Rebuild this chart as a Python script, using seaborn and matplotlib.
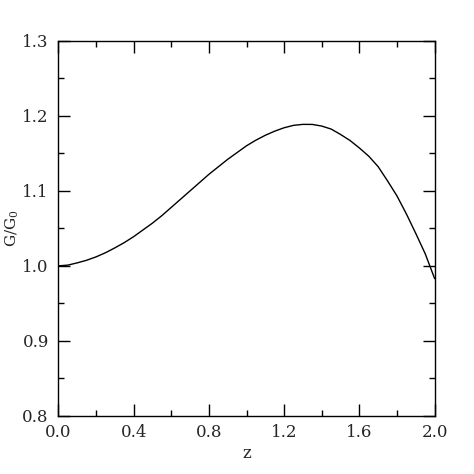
import matplotlib
matplotlib.use("Agg")
import matplotlib.pyplot as plt
import seaborn as sns
import pandas as pd
from matplotlib.ticker import MultipleLocator, FormatStrFormatter

# Values
z_vals = [0.0, 0.05, 0.1, 0.15, 0.2, 0.25, 0.3, 0.35, 0.4, 0.45, 0.5, 0.55,
          0.6, 0.65, 0.7, 0.75, 0.8, 0.85, 0.9, 0.95, 1.0, 1.05, 1.1, 1.15,
          1.2, 1.25, 1.3, 1.35, 1.4, 1.45, 1.5, 1.55, 1.6, 1.65, 1.7, 1.75,
          1.8, 1.85, 1.9, 1.95, 2.0]
g_ratio = [1.000, 1.001, 1.004, 1.0075, 1.012, 1.0175, 1.024, 1.031, 1.039,
           1.048, 1.057, 1.067, 1.078, 1.089, 1.100, 1.111, 1.122, 1.132,
           1.142, 1.151, 1.160, 1.1675, 1.174, 1.1795, 1.184, 1.1872, 1.1885,
           1.1884, 1.1862, 1.1822, 1.175, 1.167, 1.157, 1.146, 1.132, 1.113,
           1.093, 1.069, 1.043, 1.016, 0.983]

x_ticks = [0.0, 0.4, 0.8, 1.2, 1.6, 2.0]
y_ticks = [0.8, 0.9, 1.0, 1.1, 1.2, 1.3]

sns.set_style("ticks")
plt.rcParams["font.family"] = ["DejaVu Serif"]
plt.rcParams["mathtext.fontset"] = "dejavuserif"

df = pd.DataFrame({"z": z_vals, "G": g_ratio})

fig = plt.figure(figsize=(4.74, 4.74), dpi=100)
ax = fig.add_axes([0.1234, 0.1224, 0.7936, 0.7918])

sns.lineplot(data=df, x="z", y="G", ax=ax, color="black", linewidth=1.0,
             estimator=None, sort=True)

ax.set_xlim(0.0, 2.0)
ax.set_ylim(0.8, 1.3)
ax.set_xticks(x_ticks)
ax.set_yticks(y_ticks)
ax.xaxis.set_minor_locator(MultipleLocator(0.2))
ax.yaxis.set_minor_locator(MultipleLocator(0.05))
ax.xaxis.set_major_formatter(FormatStrFormatter("%.1f"))
ax.yaxis.set_major_formatter(FormatStrFormatter("%.1f"))

for s in ax.spines.values():
    s.set_visible(True)
    s.set_linewidth(1.0)
    s.set_color("black")

ax.tick_params(which="both", direction="in", top=True, right=True,
               color="black", width=1.0, labelsize=12)
ax.tick_params(which="major", length=8.6)
ax.tick_params(which="minor", length=4.3)
ax.tick_params(axis="y", which="major", pad=7)
ax.tick_params(axis="x", which="major", pad=6)

ax.set_xlabel("z", fontsize=12, labelpad=3)
ax.set_ylabel("G/G$_0$", fontsize=11)
ax.yaxis.set_label_coords(-0.100, 0.5)

fig.savefig("out.png", dpi=100)
